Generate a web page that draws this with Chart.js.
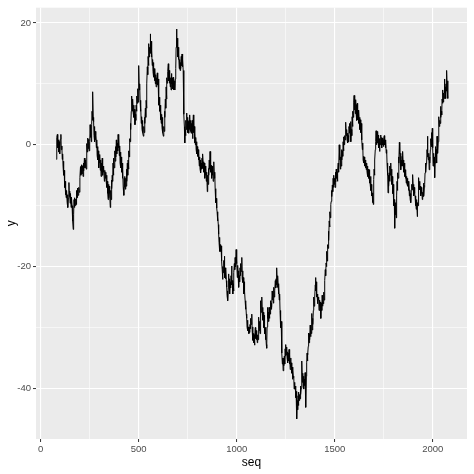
<!DOCTYPE html>
<html>
<head>
<meta charset="utf-8">
<script src="https://cdn.jsdelivr.net/npm/chart.js@4.4.1/dist/chart.umd.min.js"></script>
<style>
  html, body { margin: 0; padding: 0; background: #ffffff; }
  #wrap { width: 474px; height: 474px; }
</style>
</head>
<body>
<div id="wrap"><canvas id="walk" width="474" height="474"></canvas></div>
<script>
// x positions (seq)
const seq = [
  80, 82, 85, 87, 90, 92, 95, 97, 100, 103,
  105, 108, 110, 112, 114, 116, 118, 120, 122, 124,
  126, 128, 130, 132, 135, 137, 139, 141, 144, 146,
  148, 150, 152, 155, 157, 160, 162, 164, 166, 168,
  170, 172, 174, 177, 179, 181, 183, 186, 188, 191,
  194, 197, 200, 203, 205, 208, 210, 213, 216, 218,
  220, 223, 226, 229, 232, 234, 236, 238, 240, 242,
  245, 247, 250, 252, 254, 256, 258, 260, 262, 264,
  266, 268, 270, 272, 274, 276, 278, 280, 282, 284,
  286, 288, 290, 292, 294, 296, 298, 300, 302, 304,
  306, 308, 310, 312, 314, 316, 318, 320, 322, 325,
  327, 330, 332, 334, 336, 338, 340, 342, 344, 346,
  348, 350, 352, 355, 357, 359, 361, 363, 365, 367,
  369, 371, 373, 375, 378, 380, 382, 384, 386, 388,
  390, 393, 395, 397, 399, 401, 403, 405, 407, 409,
  411, 413, 415, 417, 419, 421, 424, 426, 428, 430,
  432, 434, 436, 438, 440, 442, 444, 446, 448, 450,
  452, 454, 456, 458, 460, 462, 464, 466, 468, 470,
  472, 474, 476, 478, 481, 483, 485, 487, 489, 491,
  493, 495, 497, 499, 501, 503, 505, 507, 509, 511,
  513, 515, 517, 519, 521, 524, 526, 528, 530, 532,
  534, 536, 538, 540, 542, 544, 546, 548, 550, 552,
  554, 556, 558, 559, 561, 563, 565, 567, 569, 571,
  573, 575, 577, 579, 581, 583, 585, 587, 589, 591,
  593, 595, 597, 599, 601, 603, 605, 607, 609, 611,
  613, 615, 617, 619, 621, 623, 626, 628, 630, 632,
  634, 636, 638, 640, 642, 644, 646, 648, 651, 653,
  655, 657, 659, 661, 663, 665, 667, 669, 671, 673,
  675, 677, 679, 681, 683, 685, 687, 689, 691, 693,
  695, 697, 699, 701, 703, 705, 707, 709, 711, 713,
  715, 717, 719, 721, 723, 725, 727, 729, 731, 733,
  735, 737, 739, 741, 743, 745, 747, 749, 751, 753,
  755, 757, 759, 761, 763, 765, 767, 769, 771, 773,
  775, 777, 779, 781, 783, 785, 787, 789, 791, 793,
  795, 797, 799, 801, 803, 805, 807, 809, 811, 813,
  815, 817, 819, 821, 823, 825, 827, 829, 831, 833,
  835, 837, 839, 841, 843, 845, 847, 850, 852, 854,
  856, 858, 860, 862, 864, 866, 868, 870, 872, 874,
  876, 878, 880, 882, 884, 886, 888, 890, 892, 894,
  896, 898, 900, 902, 904, 906, 908, 910, 912, 914,
  916, 918, 920, 922, 924, 926, 928, 930, 932, 934,
  936, 937, 939, 941, 943, 945, 947, 949, 951, 953,
  955, 957, 959, 961, 963, 965, 967, 969, 971, 974,
  976, 978, 980, 982, 984, 986, 988, 990, 992, 994,
  997, 999, 1001, 1003, 1005, 1007, 1009, 1011, 1013, 1015,
  1017, 1019, 1021, 1023, 1026, 1028, 1030, 1032, 1034, 1036,
  1038, 1040, 1043, 1045, 1047, 1049, 1051, 1053, 1055, 1057,
  1060, 1062, 1064, 1066, 1068, 1070, 1072, 1074, 1077, 1079,
  1081, 1083, 1085, 1087, 1089, 1091, 1093, 1095, 1097, 1099,
  1101, 1103, 1105, 1107, 1109, 1111, 1113, 1115, 1117, 1119,
  1121, 1123, 1125, 1128, 1130, 1132, 1134, 1136, 1138, 1140,
  1142, 1145, 1147, 1149, 1151, 1153, 1155, 1157, 1159, 1161,
  1163, 1165, 1167, 1169, 1171, 1173, 1175, 1177, 1179, 1181,
  1183, 1185, 1187, 1189, 1191, 1193, 1195, 1197, 1199, 1201,
  1203, 1205, 1207, 1209, 1211, 1213, 1215, 1217, 1219, 1221,
  1223, 1225, 1227, 1229, 1231, 1233, 1235, 1237, 1239, 1241,
  1243, 1245, 1247, 1249, 1251, 1253, 1255, 1257, 1259, 1261,
  1263, 1265, 1267, 1269, 1271, 1273, 1275, 1277, 1279, 1281,
  1283, 1285, 1287, 1289, 1291, 1293, 1295, 1297, 1299, 1301,
  1303, 1305, 1307, 1309, 1311, 1313, 1315, 1317, 1319, 1321,
  1323, 1325, 1327, 1329, 1331, 1333, 1335, 1337, 1339, 1341,
  1343, 1345, 1347, 1349, 1351, 1353, 1355, 1357, 1359, 1361,
  1363, 1365, 1367, 1369, 1371, 1373, 1375, 1377, 1379, 1381,
  1383, 1385, 1387, 1389, 1391, 1393, 1395, 1397, 1399, 1401,
  1402, 1404, 1406, 1408, 1410, 1412, 1414, 1416, 1418, 1420,
  1422, 1424, 1426, 1428, 1430, 1432, 1434, 1436, 1438, 1440,
  1442, 1444, 1446, 1448, 1450, 1452, 1454, 1456, 1458, 1460,
  1462, 1464, 1466, 1468, 1470, 1472, 1474, 1476, 1478, 1480,
  1482, 1484, 1486, 1488, 1490, 1492, 1494, 1496, 1498, 1500,
  1502, 1504, 1506, 1508, 1510, 1512, 1514, 1516, 1518, 1520,
  1523, 1525, 1527, 1529, 1531, 1533, 1535, 1537, 1539, 1541,
  1543, 1545, 1547, 1549, 1551, 1553, 1555, 1557, 1559, 1561,
  1563, 1565, 1567, 1569, 1571, 1573, 1575, 1577, 1579, 1581,
  1583, 1585, 1587, 1589, 1591, 1593, 1595, 1597, 1599, 1601,
  1603, 1605, 1607, 1609, 1611, 1613, 1615, 1617, 1619, 1621,
  1623, 1625, 1627, 1629, 1631, 1633, 1635, 1637, 1639, 1641,
  1643, 1645, 1647, 1649, 1651, 1653, 1655, 1657, 1659, 1661,
  1663, 1665, 1667, 1669, 1671, 1673, 1675, 1677, 1679, 1681,
  1683, 1685, 1687, 1689, 1691, 1693, 1695, 1697, 1699, 1701,
  1703, 1705, 1707, 1709, 1711, 1713, 1715, 1717, 1719, 1721,
  1723, 1725, 1727, 1729, 1731, 1733, 1735, 1737, 1739, 1741,
  1743, 1745, 1747, 1749, 1751, 1753, 1755, 1757, 1759, 1761,
  1763, 1765, 1767, 1769, 1771, 1772, 1774, 1776, 1778, 1780,
  1782, 1784, 1786, 1788, 1790, 1792, 1794, 1796, 1798, 1800,
  1802, 1804, 1806, 1808, 1810, 1812, 1814, 1816, 1818, 1820,
  1822, 1824, 1826, 1828, 1830, 1832, 1834, 1836, 1838, 1840,
  1842, 1844, 1846, 1847, 1849, 1851, 1853, 1855, 1857, 1859,
  1861, 1863, 1865, 1867, 1869, 1871, 1873, 1875, 1877, 1879,
  1881, 1883, 1885, 1887, 1889, 1891, 1893, 1895, 1897, 1898,
  1900, 1902, 1904, 1906, 1908, 1910, 1912, 1914, 1916, 1918,
  1920, 1921, 1923, 1925, 1927, 1929, 1931, 1933, 1935, 1937,
  1939, 1941, 1943, 1945, 1947, 1949, 1951, 1953, 1955, 1957,
  1959, 1961, 1963, 1965, 1967, 1969, 1971, 1973, 1974, 1976,
  1978, 1980, 1982, 1984, 1986, 1988, 1990, 1992, 1994, 1996,
  1998, 2000, 2002, 2004, 2006, 2008, 2010, 2012, 2014, 2016,
  2018, 2020, 2022, 2024, 2026, 2028, 2030, 2032, 2034, 2036,
  2038, 2040, 2042, 2044, 2046, 2048, 2050, 2052, 2054, 2056,
  2058, 2060, 2062, 2064, 2066, 2068, 2070, 2072, 2074, 2076,
  2078
];

// y values, same order as seq
const yVals = [
  -2.4, 1.2, 1.7, -0.5, 0.8, -1.2, 0.5, -1.5, 0.9, 1.7,
  -0.8, -0.2, -2.4, -1.5, -3.5, -2.7, -5.0, -4.2, -7.0, -6.0,
  -8.2, -7.1, -8.7, -7.5, -9.5, -8.2, -10.3, -8.8, -6.2, -8.5,
  -7.6, -9.6, -8.0, -10.3, -8.6, -10.0, -11.2, -12.5, -13.9, -11.5,
  -9.0, -10.3, -8.7, -10.0, -8.9, -9.8, -7.5, -8.7, -7.1, -8.3,
  -7.0, -7.8, -5.4, -3.6, -5.0, -3.3, -4.8, -3.5, -5.2, -3.0,
  -4.3, -2.2, -3.8, -2.5, -4.0, -1.4, 0.2, -1.2, 1.1, -0.6,
  0.9, -1.0, 0.5, 3.3, 1.2, 2.7, 0.5, 3.3, 5.5, 4.0,
  8.7, 4.5, 3.8, 1.5, 3.0, 0.5, 2.2, 0.8, 1.5, -0.5,
  0.8, -1.8, -0.3, -2.5, -1.0, -3.8, -1.8, -3.0, -1.6, -4.2,
  -2.5, -5.2, -3.0, -4.5, -2.2, -5.0, -3.5, -4.5, -3.8, -6.0,
  -4.2, -5.5, -4.5, -6.0, -5.0, -7.0, -6.0, -8.0, -9.0, -6.5,
  -8.7, -6.8, -8.0, -10.3, -7.5, -9.0, -5.8, -7.2, -5.0, -6.0,
  -3.0, -5.0, -2.2, -3.8, -1.0, -2.7, -0.3, -2.0, 0.8, -1.5,
  0.3, -1.0, 1.7, -0.5, 1.1, -1.8, -0.2, -3.0, -1.2, -3.8,
  -2.0, -4.5, -3.0, -5.5, -4.0, -7.0, -8.3, -5.5, -7.0, -5.2,
  -7.3, -5.5, -6.8, -4.0, -6.0, -3.0, -5.0, -2.5, -4.0, -1.0,
  -2.0, 1.0, 0.5, 3.5, 2.5, 5.5, 8.0, 7.0, 5.5, 7.5,
  5.2, 6.5, 4.5, 5.8, 3.3, 5.0, 4.0, 6.5, 5.5, 8.0,
  6.8, 9.2, 7.0, 10.5, 13.0, 9.0, 10.0, 7.3, 5.5, 6.5,
  3.5, 4.6, 2.5, 4.0, 2.0, 1.4, 3.0, 2.0, 4.5, 3.5,
  6.0, 4.5, 7.3, 6.0, 10.0, 12.8, 11.5, 14.5, 13.0, 16.6,
  14.4, 16.0, 15.0, 18.2, 15.5, 17.0, 14.4, 15.5, 13.0, 14.0,
  12.0, 13.5, 11.1, 12.5, 10.5, 12.2, 10.0, 11.5, 9.5, 11.0,
  10.0, 11.8, 9.8, 10.8, 8.4, 6.5, 7.8, 5.5, 6.5, 4.1,
  5.5, 3.5, 5.0, 2.8, 4.5, 2.0, 1.4, 3.0, 2.2, 5.5,
  4.5, 7.5, 6.0, 9.5, 7.5, 11.0, 10.1, 12.0, 13.3, 10.5,
  12.2, 10.1, 11.5, 9.5, 11.0, 9.0, 11.7, 10.0, 11.0, 9.2,
  10.5, 9.0, 11.1, 9.5, 10.5, 9.0, 10.8, 12.5, 16.0, 19.0,
  16.0, 17.5, 14.4, 16.0, 14.0, 14.9, 12.5, 14.0, 12.2, 13.5,
  12.5, 14.5, 13.0, 14.9, 12.8, 14.0, 12.2, 8.0, 5.0, 3.0,
  0.3, 2.5, 1.5, 4.0, 2.5, 5.2, 3.0, 4.5, 2.0, 3.8,
  1.9, 4.0, 2.5, 4.9, 2.2, 4.0, 1.9, 3.5, 2.0, 4.0,
  1.0, 3.0, 4.9, 2.0, 3.0, 0.3, 1.9, 0.0, 1.2, -0.8,
  0.5, -1.5, -0.3, -1.9, -0.8, -2.5, -1.4, -3.5, -2.0, -4.0,
  -2.5, -4.6, -3.0, -4.0, -2.2, -3.9, -1.5, -3.0, -2.8, -4.5,
  -3.0, -5.5, -3.5, -5.0, -3.9, -6.0, -4.5, -7.7, -5.0, -6.5,
  -3.9, -5.0, -2.5, -4.0, -1.1, -3.5, -4.5, -3.4, -5.5, -3.8,
  -5.0, -3.5, -6.0, -4.0, -2.8, -5.5, -4.5, -7.2, -8.0, -9.5,
  -8.8, -10.4, -11.0, -12.5, -11.8, -13.1, -14.7, -16.0, -15.2, -17.5,
  -16.4, -17.5, -16.6, -17.3, -19.1, -20.5, -22.1, -20.0, -21.0, -19.0,
  -20.5, -18.3, -21.8, -20.2, -22.0, -20.5, -22.3, -23.4, -24.8, -24.0,
  -25.6, -23.5, -21.2, -23.0, -22.0, -24.5, -22.5, -23.5, -21.5, -19.9,
  -23.0, -22.3, -24.5, -22.8, -24.0, -21.0, -19.5, -20.5, -18.5, -20.0,
  -17.2, -19.5, -19.1, -21.8, -19.8, -21.0, -20.7, -23.4, -21.5, -22.5,
  -20.2, -21.5, -19.5, -20.8, -18.5, -22.0, -20.7, -22.6, -21.8, -24.5,
  -22.5, -24.0, -25.6, -27.0, -26.0, -27.8, -28.5, -30.0, -28.8, -30.5,
  -29.9, -31.0, -30.0, -30.8, -29.5, -30.2, -28.5, -29.5, -27.8, -30.5,
  -29.9, -32.1, -31.0, -32.5, -31.2, -32.9, -31.5, -30.0, -31.8, -30.5,
  -32.0, -31.0, -32.5, -31.2, -32.0, -30.5, -28.3, -30.5, -29.0, -31.0,
  -27.0, -25.6, -27.5, -25.0, -27.5, -26.7, -28.8, -27.5, -30.0, -28.0,
  -31.0, -30.0, -32.0, -31.0, -32.8, -33.4, -29.9, -26.7, -28.5, -27.5,
  -29.0, -26.7, -28.5, -27.0, -27.8, -25.6, -27.0, -26.0, -26.7, -24.0,
  -25.5, -24.5, -26.0, -23.4, -25.0, -24.0, -23.9, -22.3, -23.5, -22.0,
  -23.0, -20.2, -23.4, -21.5, -22.8, -24.5, -23.0, -25.5, -24.5, -27.2,
  -28.5, -30.0, -29.0, -32.0, -34.2, -36.0, -35.0, -37.1, -35.0, -36.3,
  -34.7, -36.0, -33.5, -34.7, -32.8, -34.5, -33.2, -35.0, -34.0, -35.8,
  -34.2, -35.5, -33.6, -36.0, -34.5, -36.9, -35.0, -36.5, -35.8, -37.5,
  -36.5, -38.5, -37.0, -38.2, -38.0, -40.1, -39.0, -40.0, -39.6, -41.5,
  -40.5, -42.3, -45.0, -42.0, -43.5, -41.2, -42.8, -40.6, -42.0, -41.0,
  -41.7, -39.6, -41.0, -40.0, -38.0, -35.5, -39.0, -37.5, -39.6, -38.0,
  -40.1, -38.5, -39.5, -37.4, -40.0, -43.1, -38.0, -35.8, -34.2, -35.5,
  -34.5, -33.1, -30.9, -32.5, -31.0, -32.0, -29.6, -31.5, -30.0, -31.0,
  -27.7, -30.4, -28.5, -29.5, -27.2, -25.0, -26.5, -25.5, -25.0, -23.0,
  -21.8, -24.0, -22.5, -25.0, -24.5, -26.1, -24.8, -25.5, -25.0, -27.2,
  -25.5, -26.5, -25.8, -27.5, -28.5, -26.0, -27.2, -24.7, -26.5, -25.0,
  -26.1, -24.2, -25.5, -24.5, -22.3, -20.5, -21.5, -19.4, -20.0, -17.5,
  -19.1, -16.4, -17.0, -14.2, -15.7, -12.5, -13.5, -11.0, -12.0, -9.8,
  -9.3, -7.5, -8.5, -6.6, -7.7, -5.5, -7.0, -5.0, -6.5, -5.5,
  -7.0, -4.5, -6.1, -4.0, -5.5, -4.5, -6.0, -4.2, -3.0, -4.5,
  0.0, -2.5, -1.5, -4.0, -2.0, -3.5, -0.8, -2.5, -1.0, -1.9,
  0.5, -1.0, 1.3, 0.0, 1.5, 0.8, 2.5, 3.7, 1.5, 2.5,
  0.8, 1.9, 0.3, 1.5, 0.5, 3.0, 1.9, 3.5, 2.0, 3.8,
  0.5, 2.5, 1.5, 4.6, 3.0, 5.5, 4.5, 7.0, 8.1, 5.7,
  7.5, 5.1, 7.4, 5.2, 6.6, 4.0, 6.8, 4.1, 5.6, 3.5,
  5.7, 4.0, 4.5, 2.5, 4.1, 2.0, 3.5, 1.4, 0.8, -0.8,
  0.3, -2.5, -1.9, -3.0, -2.0, -3.5, -2.5, -3.8, -2.8, -4.1,
  -3.0, -4.5, -3.5, -5.2, -4.0, -5.5, -4.1, -6.3, -5.0, -6.5,
  -5.2, -7.5, -6.5, -8.4, -7.9, -9.5, -8.5, -9.8, -5.7, -4.0,
  -5.0, -2.5, -0.8, 0.5, 2.3, 0.0, 1.5, 0.3, 2.2, 0.8,
  1.6, -0.5, 1.0, -1.1, 0.8, 0.0, 1.6, 0.2, 1.2, -0.5,
  1.1, 0.0, 0.8, -0.3, 1.0, 1.5, 0.0, 0.8, -0.5, 0.5,
  -1.4, -0.8, -3.0, -5.0, -4.0, -7.9, -5.0, -6.8, -4.6, -6.0,
  -3.5, -5.0, -3.0, -5.7, -4.0, -6.5, -5.2, -8.0, -6.5, -8.4,
  -10.0, -9.0, -13.7, -10.0, -11.5, -9.5, -12.0, -8.4, -6.0, -7.5,
  -4.6, -5.5, -2.0, -3.0, 0.4, -1.5, -3.0, -1.4, -4.1, -2.5,
  -3.5, -1.9, -3.5, -1.1, -3.0, -2.5, -4.5, -3.0, -5.2, -4.1,
  -5.5, -4.5, -6.3, -5.2, -6.5, -5.5, -6.8, -6.0, -7.5, -6.3,
  -8.4, -7.4, -9.0, -8.0, -9.5, -7.5, -6.5, -7.4, -5.2, -4.9,
  -6.5, -6.8, -8.4, -7.0, -8.0, -8.4, -10.0, -9.0, -10.6, -9.0,
  -10.5, -11.8, -9.5, -10.0, -7.4, -5.4, -7.0, -6.0, -7.4, -6.8,
  -8.4, -7.0, -8.0, -7.4, -9.0, -7.8, -8.5, -6.3, -8.4, -7.0,
  -6.5, -4.6, -3.0, -4.5, -3.2, -3.0, -0.8, -2.0, 1.4, -1.5,
  -2.5, -1.4, -4.1, -2.0, -3.0, -0.8, 1.0, 0.0, 2.0, -0.3,
  2.7, -0.5, -3.5, -1.4, -3.0, -2.0, -5.4, -3.0, -0.3, -2.0,
  -0.8, -3.0, 1.4, -0.5, -1.4, 0.5, 2.5, 4.6, 3.0, 4.0,
  3.5, 6.3, 4.5, 5.5, 4.9, 7.5, 6.8, 9.0, 7.0, 8.5,
  7.6, 10.8, 8.5, 9.5, 7.6, 10.0, 8.8, 12.2, 9.0, 10.5,
  7.6
];

// grid positions: major ones get labels and tick marks, minor ones only a thin line
const xGridTicks = [0, 250, 500, 750, 1000, 1250, 1500, 1750, 2000];
const xMajorTicks = [0, 500, 1000, 1500, 2000];
const yGridTicks = [-40, -30, -20, -10, 0, 10, 20];
const yMajorTicks = [-40, -20, 0, 20];

const PANEL_BG = '#EBEBEB';
const TEXT_GREY = '#4D4D4D';
const FONT = "'Liberation Sans', Arial, sans-serif";

// ggplot-like grey panel plus axis titles
const ggPanel = {
  id: 'ggPanel',
  beforeDraw(chart) {
    const { ctx, chartArea: a } = chart;
    ctx.save();
    ctx.fillStyle = PANEL_BG;
    ctx.fillRect(a.left, a.top, a.right - a.left, a.bottom - a.top);
    ctx.restore();
  },
  afterDraw(chart) {
    const { ctx, chartArea: a } = chart;
    ctx.save();
    ctx.fillStyle = '#000000';
    ctx.font = '12px ' + FONT;
    ctx.textAlign = 'center';
    ctx.textBaseline = 'middle';
    ctx.fillText('seq', (a.left + a.right) / 2, 463);
    ctx.translate(12, (a.top + a.bottom) / 2);
    ctx.rotate(-Math.PI / 2);
    ctx.fillText('y', 0, 0);
    ctx.restore();
  }
};

const points = seq.map((s, i) => ({ x: s, y: yVals[i] }));

const isMajor = (list, v) => list.some(t => Math.abs(t - v) < 1e-6);

new Chart(document.getElementById('walk'), {
  type: 'line',
  data: {
    datasets: [{
      data: points,
      borderColor: '#000000',
      borderWidth: 1,
      pointRadius: 0,
      tension: 0,
      fill: false
    }]
  },
  options: {
    responsive: false,
    animation: false,
    parsing: false,
    layout: { padding: { top: 5, right: 7, left: 0, bottom: 0 } },
    plugins: { legend: { display: false }, tooltip: { enabled: false } },
    scales: {
      x: {
        type: 'linear',
        min: -24,
        max: 2175,
        afterBuildTicks(scale) { scale.ticks = xGridTicks.map(v => ({ value: v })); },
        afterFit(scale) { scale.height = 35; },
        border: { display: false },
        grid: {
          color: '#FFFFFF',
          lineWidth: c => isMajor(xMajorTicks, c.tick.value) ? 1.1 : 0.55,
          tickColor: c => isMajor(xMajorTicks, c.tick.value) ? '#333333' : 'rgba(0,0,0,0)',
          tickLength: 3,
          tickWidth: 1
        },
        ticks: {
          autoSkip: false,
          maxRotation: 0,
          padding: 2,
          color: TEXT_GREY,
          font: { family: FONT, size: 9.5 },
          callback: v => isMajor(xMajorTicks, v) ? String(v) : ''
        }
      },
      y: {
        type: 'linear',
        min: -48.3,
        max: 22.5,
        afterBuildTicks(scale) { scale.ticks = yGridTicks.map(v => ({ value: v })); },
        afterFit(scale) { scale.width = 36; },
        border: { display: false },
        grid: {
          color: '#FFFFFF',
          lineWidth: c => isMajor(yMajorTicks, c.tick.value) ? 1.1 : 0.55,
          tickColor: c => isMajor(yMajorTicks, c.tick.value) ? '#333333' : 'rgba(0,0,0,0)',
          tickLength: 3,
          tickWidth: 1
        },
        ticks: {
          autoSkip: false,
          padding: 2,
          color: TEXT_GREY,
          font: { family: FONT, size: 9.5 },
          callback: v => isMajor(yMajorTicks, v) ? String(v) : ''
        }
      }
    }
  },
  plugins: [ggPanel]
});
</script>
</body>
</html>
